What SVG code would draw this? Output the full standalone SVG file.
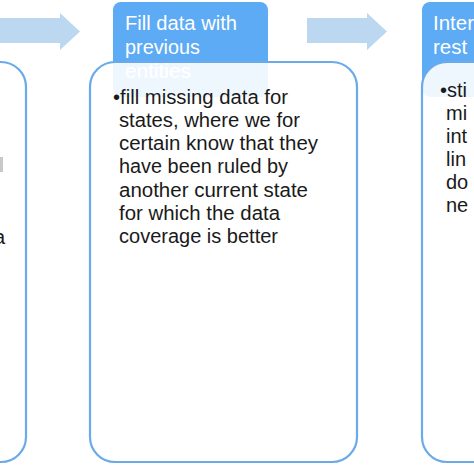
<svg xmlns="http://www.w3.org/2000/svg" width="474" height="474" viewBox="0 0 474 474">
<style>
.hdr{fill:#5dabf4}
.body{fill:#ffffff;fill-opacity:0.9;stroke:#6aaaea;stroke-width:2.2}
.arrow{fill:#bcd8f1}
.ht{font-family:"Liberation Sans",Arial,sans-serif;font-size:20.5px;fill:#ffffff}
.bt{font-family:"Liberation Sans",Arial,sans-serif;font-size:20px;fill:#1a1a1a}
</style>
<rect width="474" height="474" fill="#ffffff"/>
<g id="connectors">
<polygon class="arrow" points="-5,18 60,18 60,13 80,31.5 60,50 60,43 -5,43"/>
<polygon class="arrow" points="307,18 367,18 367,13 387,31.5 367,50 367,43 307,43"/>
</g>
<g id="node1">
<rect class="body" x="-240" y="62" width="266" height="400" rx="25"/>
<rect x="0" y="157" width="3" height="15" fill="#c8c8c8"/>
<text class="bt" x="-6" y="244">a</text>
</g>
<g id="node2">
<rect class="hdr" x="113" y="2" width="155" height="95" rx="8"/>
<text class="ht" x="125" y="30" textLength="112" lengthAdjust="spacingAndGlyphs">Fill data with</text>
<text class="ht" x="125" y="54" textLength="75" lengthAdjust="spacingAndGlyphs">previous</text>
<text class="ht" x="125" y="78" textLength="66" lengthAdjust="spacingAndGlyphs">entities</text>
<rect class="body" x="90" y="62" width="267" height="400" rx="25"/>
<text class="bt" x="113" y="104">•</text>
<text class="bt" x="120" y="104" textLength="168" lengthAdjust="spacingAndGlyphs">fill missing data for</text>
<text class="bt" x="119" y="127" textLength="181" lengthAdjust="spacingAndGlyphs">states, where we for</text>
<text class="bt" x="119" y="150" textLength="199" lengthAdjust="spacingAndGlyphs">certain know that they</text>
<text class="bt" x="119" y="173" textLength="169" lengthAdjust="spacingAndGlyphs">have been ruled by</text>
<text class="bt" x="119" y="197" textLength="189" lengthAdjust="spacingAndGlyphs">another current state</text>
<text class="bt" x="119" y="220" textLength="161" lengthAdjust="spacingAndGlyphs">for which the data</text>
<text class="bt" x="119" y="243" textLength="159" lengthAdjust="spacingAndGlyphs">coverage is better</text>
</g>
<g id="node3">
<rect class="hdr" x="422" y="2" width="120" height="95" rx="8"/>
<text class="ht" x="433" y="30">Inter</text>
<text class="ht" x="433" y="54">rest</text>
<rect class="body" x="422" y="62" width="120" height="400" rx="25"/>
<text class="bt" x="440" y="97">•sti</text>
<text class="bt" x="446" y="120">mi</text>
<text class="bt" x="446" y="143">int</text>
<text class="bt" x="446" y="166">lin</text>
<text class="bt" x="446" y="189">do</text>
<text class="bt" x="446" y="212">ne</text>
</g>
</svg>
